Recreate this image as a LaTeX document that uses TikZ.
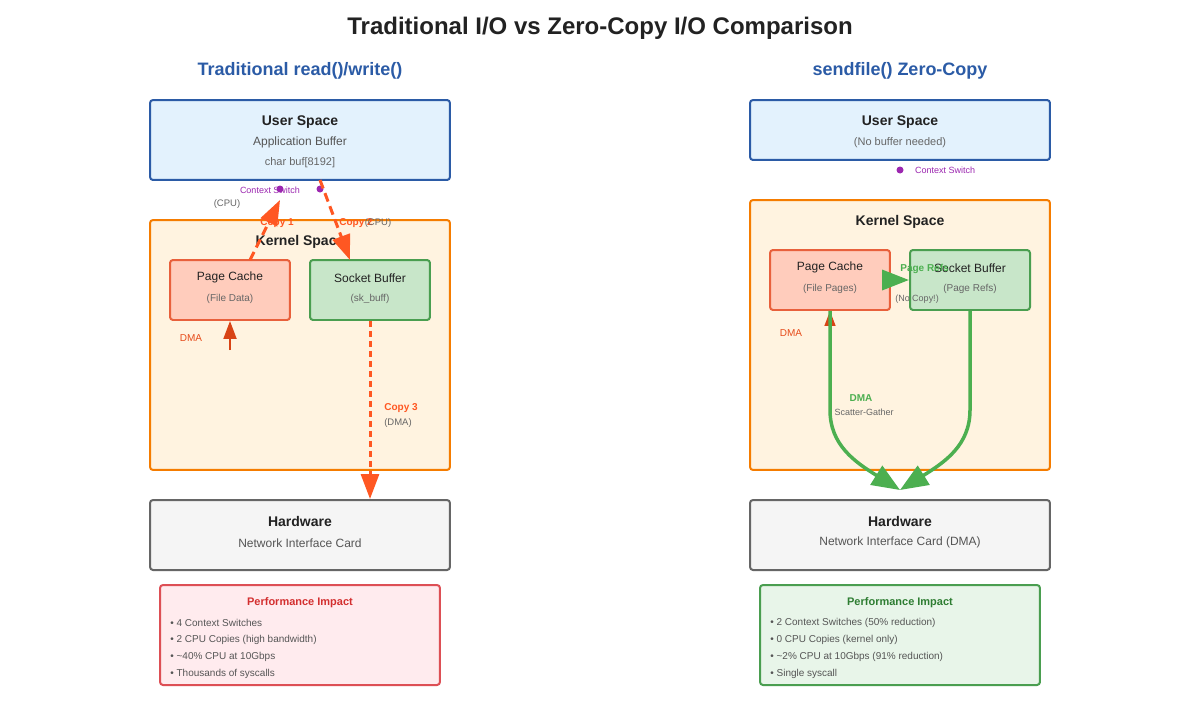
\documentclass[tikz,border=0pt]{standalone}
\usepackage{fontspec}
\setmainfont{Liberation Sans}
\usetikzlibrary{arrows.meta}
\newcommand\fs[1]{\fontsize{\dimexpr #1pt*569/1000\relax}{\dimexpr #1pt*683/1000\relax}\selectfont}
\definecolor{ublue}{HTML}{2B5BA6}
\definecolor{ubluef}{HTML}{E3F2FD}
\definecolor{korange}{HTML}{F57C00}
\definecolor{korangef}{HTML}{FFF3E0}
\definecolor{pcred}{HTML}{E8603C}
\definecolor{pcredf}{HTML}{FFCCBC}
\definecolor{sbgreen}{HTML}{4A9E50}
\definecolor{sbgreenf}{HTML}{C8E6C9}
\definecolor{hwgray}{HTML}{666666}
\definecolor{hwgrayf}{HTML}{F5F5F5}
\definecolor{perfred}{HTML}{DD4F55}
\definecolor{perfredf}{HTML}{FFEBEE}
\definecolor{perfredt}{HTML}{D32F2F}
\definecolor{perfgreen}{HTML}{4A9E50}
\definecolor{perfgreenf}{HTML}{E8F5E9}
\definecolor{perfgreent}{HTML}{2E7D32}
\definecolor{copyc}{HTML}{FF5722}
\definecolor{dmac}{HTML}{D84315}
\definecolor{dmal}{HTML}{E64A19}
\definecolor{purp}{HTML}{9C27B0}
\definecolor{garrow}{HTML}{4CAF50}
\definecolor{txt}{HTML}{222222}
\definecolor{sub}{HTML}{555555}
\definecolor{small}{HTML}{666666}
\tikzset{
  box/.style={draw, rounded corners=0.06cm, line width=0.04cm, inner sep=0},
  tx/.style={inner sep=0, yshift=-0.035cm},
  ttl/.style={tx, font=\fs{14}\bfseries, text=txt},
  stx/.style={tx, font=\fs{12}, text=sub},
  nm/.style={tx, font=\fs{12}, text=txt},
  sml/.style={tx, font=\fs{10}, text=small},
  lbl/.style={tx, font=\fs{10}\bfseries},
  bul/.style={tx, font=\fs{10}, text=sub, anchor=west},
  copyarrow/.style={draw=copyc, line width=0.06cm, dash pattern=on 0.18cm off 0.1cm, -{Triangle[length=0.5cm,width=0.36cm]}},
  copythree/.style={draw=copyc, line width=0.06cm, dash pattern=on 0.12cm off 0.08cm, -{Triangle[length=0.5cm,width=0.36cm]}},
  dmaarrow/.style={draw=dmac, line width=0.04cm, -{Triangle[length=0.36cm,width=0.26cm]}},
  garr/.style={draw=garrow, line width=0.07cm, -{Triangle[length=0.56cm,width=0.44cm]}},
}
\begin{document}
\begin{tikzpicture}[x=0.02cm,y=-0.02cm]
\useasboundingbox[fill=white] (0,0) rectangle (1200,700);
% titles
\node[tx, font=\fs{24}\bfseries, text=txt] (title) at (600,27) {Traditional I/O vs Zero-Copy I/O Comparison};
\node[tx, font=\fs{18}\bfseries, text=ublue] (st1) at (300,69) {Traditional read()/write()};
\node[tx, font=\fs{18}\bfseries, text=ublue] (st2) at (900,69) {sendfile() Zero-Copy};

% ---------- LEFT ----------
\node[box, draw=ublue, fill=ubluef, minimum width=6cm, minimum height=1.6cm] (us1) at (300,140) {};
\node[ttl] at (300,120) {User Space};
\node[stx] at (300,141) {Application Buffer};
\node[sml, font=\fs{11}] at (300,161) {char buf[8192]};

\node[box, draw=korange, fill=korangef, minimum width=6cm, minimum height=5cm] (ks1) at (300,345) {};
\node[ttl] (kst1) at (300,240) {Kernel Space};

\node[box, draw=pcred, fill=pcredf, minimum width=2.4cm, minimum height=1.2cm] (pc1) at (230,290) {};
\node[nm] at (230,276) {Page Cache};
\node[sml] at (230,297) {(File Data)};

\node[box, draw=sbgreen, fill=sbgreenf, minimum width=2.4cm, minimum height=1.2cm] (sb1) at (370,290) {};
\node[nm] at (370,276) {Socket Buffer};
\node[sml] at (370,297) {(sk\_buff)};

\node[box, draw=hwgray, fill=hwgrayf, minimum width=6cm, minimum height=1.4cm] (hw1) at (300,535) {};
\node[ttl] at (300,520) {Hardware};
\node[stx] at (300,541) {Network Interface Card};

% labels
\node[tx, font=\fs{9}, text=purp] (cs1) at (270,189) {Context Switch};
\node[sml, font=\fs{9.5}] at (227,202) {(CPU)};
\fill[purp] (280,189) circle (0.07cm);
\fill[purp] (320,189) circle (0.07cm);
\node[lbl, text=copyc] at (277,221) {Copy 1};
\node[lbl, text=copyc] at (356,221) {Copy 2};
\node[sml, font=\fs{9.5}] at (378,221) {(CPU)};

% arrows
\coordinate (c1s) at (250,260);
\coordinate (c1e) at (280,200);
\draw[copyarrow] (c1s) -- (c1e);
\coordinate (c2s) at (320,180);
\coordinate (c2e) at (350,260);
\draw[copyarrow] (c2s) -- (c2e);
\coordinate (dma1s) at (230,350);
\draw[dmaarrow] (dma1s) -- (pc1.south);
\node[tx, font=\fs{10}, text=dmal] at (191,336) {DMA};
\draw[copythree] (sb1.south) -- (hw1.north -| sb1.south);
\node[lbl, text=copyc] at (401,406) {Copy 3};
\node[sml, font=\fs{9.5}] at (398,421) {(DMA)};

\node[box, draw=perfred, fill=perfredf, minimum width=5.6cm, minimum height=2cm] (pf1) at (300,635) {};
\node[tx, font=\fs{11}\bfseries, text=perfredt] at (300,601) {Performance Impact};
\node[bul] at (170,621) {• 4 Context Switches};
\node[bul] at (170,638) {• 2 CPU Copies (high bandwidth)};
\node[bul] at (170,655) {• \textasciitilde40\% CPU at 10Gbps};
\node[bul] at (170,672) {• Thousands of syscalls};

% ---------- RIGHT ----------
\node[box, draw=ublue, fill=ubluef, minimum width=6cm, minimum height=1.2cm] (us2) at (900,130) {};
\node[ttl] at (900,120) {User Space};
\node[sml, font=\fs{11}] at (900,141) {(No buffer needed)};

\fill[purp] (900,170) circle (0.07cm);
\node[tx, font=\fs{9}, text=purp] (cs2) at (945,169) {Context Switch};

\node[box, draw=korange, fill=korangef, minimum width=6cm, minimum height=5.4cm] (ks2) at (900,335) {};
\node[ttl] (kst2) at (900,220) {Kernel Space};

\node[box, draw=pcred, fill=pcredf, minimum width=2.4cm, minimum height=1.2cm] (pc2) at (830,280) {};
\node[nm] at (830,266) {Page Cache};
\node[sml] at (830,287) {(File Pages)};

\node[box, draw=sbgreen, fill=sbgreenf, minimum width=2.4cm, minimum height=1.2cm] (sb2) at (970,280) {};
\node[nm] at (970,266) {Socket Buffer};
\node[sml] at (970,287) {(Page Refs)};

\node[box, draw=hwgray, fill=hwgrayf, minimum width=6cm, minimum height=1.4cm] (hw2) at (900,535) {};
\node[ttl] at (900,520) {Hardware};
\node[stx] at (900,541) {Network Interface Card (DMA)};

% arrows right
\draw[garr, -{Triangle[length=0.54cm,width=0.4cm]}] (pc2.east) -- (sb2.west);
\node[lbl, text=garrow, anchor=west] at (900,267) {Page Refs};
\node[sml, font=\fs{9}] at (917,297) {(No Copy!)};

\coordinate (dma2s) at (830,328);
\draw[dmaarrow, line width=0.03cm, -{Triangle[length=0.3cm,width=0.22cm]}] (dma2s) -- (pc2.south);
\node[tx, font=\fs{10}, text=dmal] at (791,331) {DMA};

\coordinate (hwtop) at (900,490);
\draw[garr] (pc2.south) -- (830,410) .. controls (830,445) and (855,462) .. (hwtop);
\draw[garr] (sb2.south) -- (970,410) .. controls (970,445) and (945,462) .. (hwtop);
\node[lbl, text=garrow] at (861,396) {DMA};
\node[sml, font=\fs{9}] at (864,411) {Scatter-Gather};

\node[box, draw=perfgreen, fill=perfgreenf, minimum width=5.6cm, minimum height=2cm] (pf2) at (900,635) {};
\node[tx, font=\fs{11}\bfseries, text=perfgreent] at (900,601) {Performance Impact};
\node[bul] at (770,621) {• 2 Context Switches (50\% reduction)};
\node[bul] at (770,638) {• 0 CPU Copies (kernel only)};
\node[bul] at (770,655) {• \textasciitilde2\% CPU at 10Gbps (91\% reduction)};
\node[bul] at (770,672) {• Single syscall};
\end{tikzpicture}
\end{document}
